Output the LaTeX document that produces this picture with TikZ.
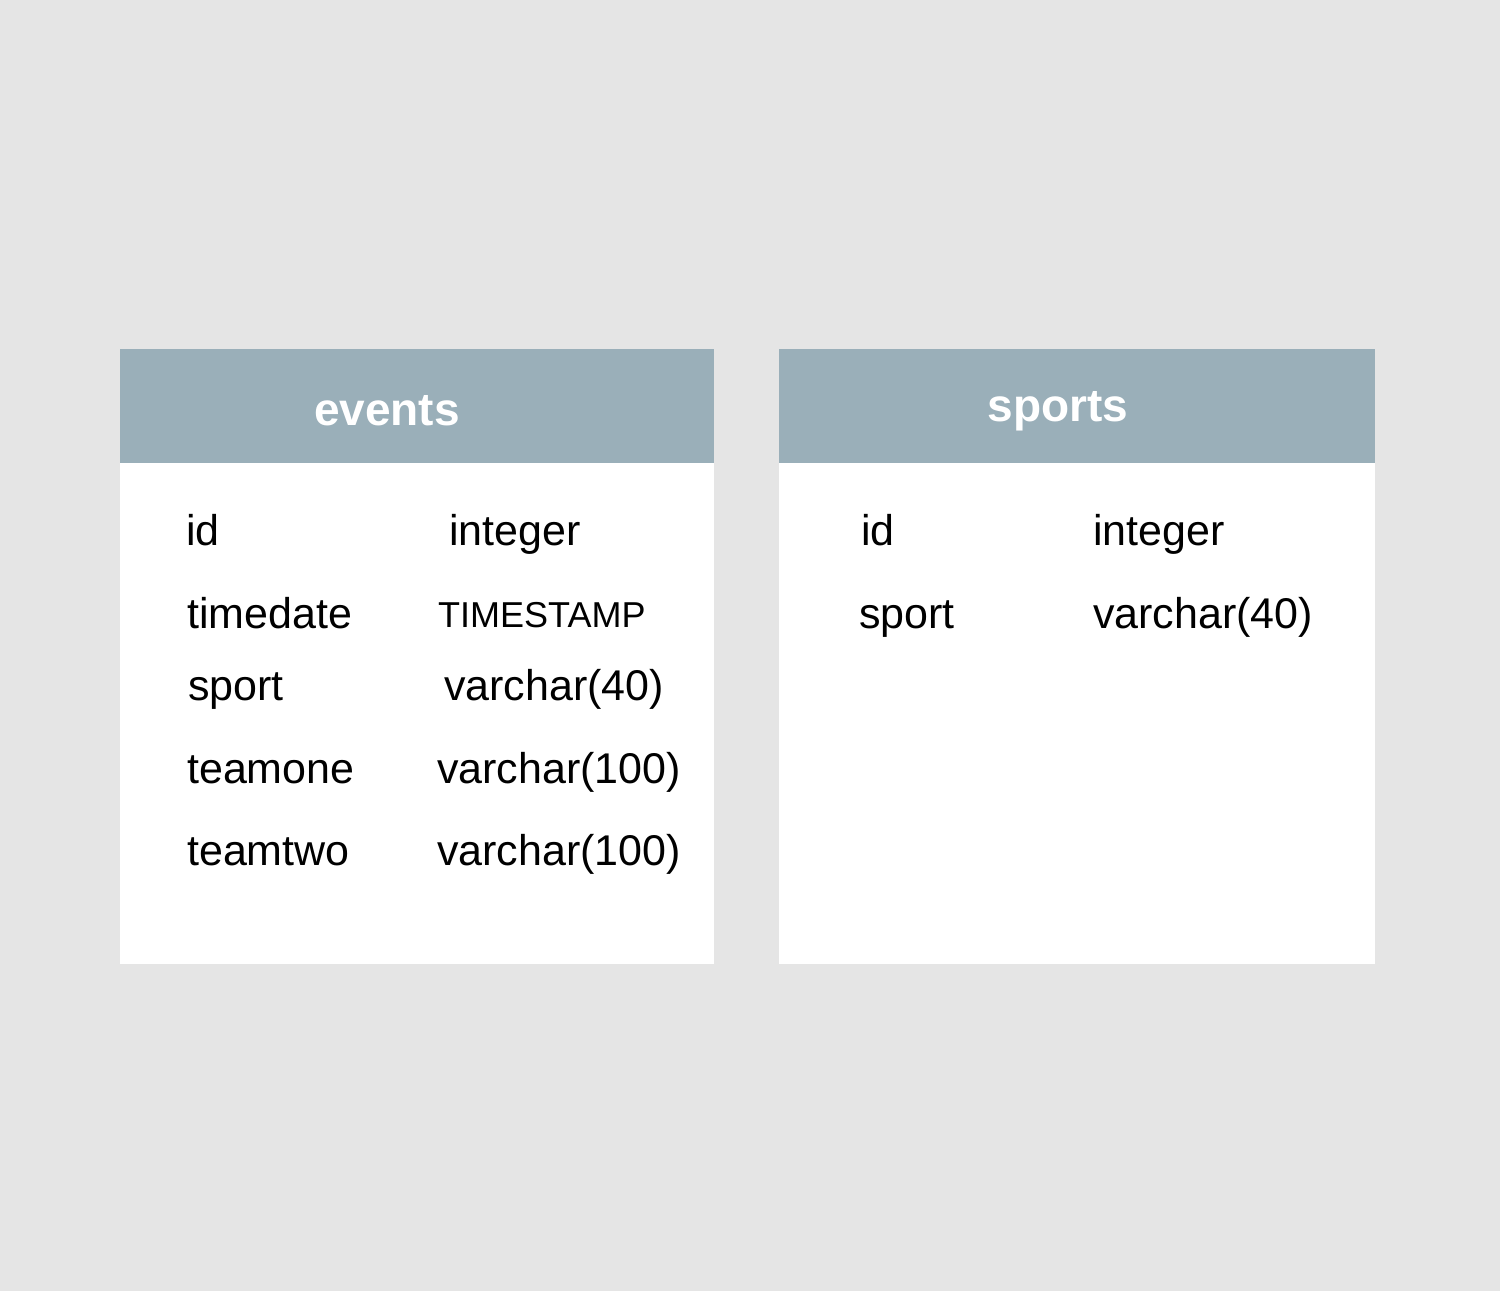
\documentclass[tikz,border=0pt]{standalone}
\usepackage{fontspec}
\setmainfont{Liberation Sans}
\begin{document}
\begin{tikzpicture}[x=1pt,y=-1pt,
  hdr/.style={fill=hdrc,draw=none},
  bodybox/.style={fill=white,draw=none},
  title/.style={text=white,font=\fontsize{46}{50}\selectfont\bfseries,inner sep=0},
  fld/.style={anchor=base west,inner sep=0,font=\fontsize{43}{48}\selectfont},
  sml/.style={anchor=base west,inner sep=0,font=\fontsize{36}{40}\selectfont}]
\definecolor{hdrc}{HTML}{9AAFB9}
\definecolor{bgc}{HTML}{E5E5E5}
\fill[bgc] (0,0) rectangle (1500,1291);
\useasboundingbox (0,0) rectangle (1500,1291);
\fill[bodybox] (120,463) rectangle (714,964);
\fill[hdr] (120,349) rectangle (714,463);
\fill[bodybox] (779,463) rectangle (1375,964);
\fill[hdr] (779,349) rectangle (1375,463);
\node[title] (t1) at (387,411) {events};
\node[title] (t2) at (1058,411) {sports};
\node[fld] (e1) at (186,545) {id};
\node[fld] (e2) at (187,628) {timedate};
\node[fld] (e3) at (188,700) {sport};
\node[fld] (e4) at (187,783) {teamone};
\node[fld] (e5) at (187,865) {teamtwo};
\node[fld] (y1) at (449,545) {integer};
\node[sml] (y2) at (438,627) {TIMESTAMP};
\node[fld] (y3) at (444,700) {varchar(40)};
\node[fld] (y4) at (437,783) {varchar(100)};
\node[fld] (y5) at (437,865) {varchar(100)};
\node[fld] (s1) at (861,545) {id};
\node[fld] (s2) at (859,628) {sport};
\node[fld] (z1) at (1093,545) {integer};
\node[fld] (z2) at (1093,628) {varchar(40)};
\end{tikzpicture}
\end{document}
